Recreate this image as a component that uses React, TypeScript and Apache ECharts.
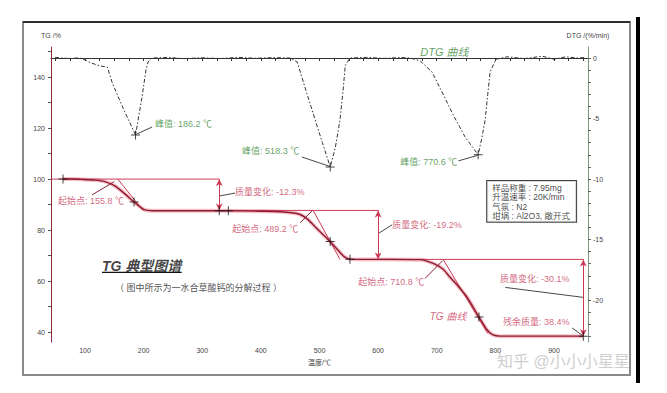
import React, { useEffect, useRef } from "react";
import * as echarts from "echarts";

const FONT = "'Liberation Sans', 'Noto Sans CJK SC', sans-serif";

// ---- axes ----
const xLabelValues = [100, 200, 300, 400, 500, 600, 700, 800, 900];
const xTickValues = [50, 75, 100, 125, 150, 175, 200, 225, 250, 275, 300, 325, 350, 375, 400, 425, 450, 475, 500, 525, 550, 575, 600, 625, 650, 675, 700, 725, 750, 775, 800, 825, 850, 875, 900, 925, 950];
const tgLabelValues = [40, 60, 80, 100, 120, 140];
const tgTickValues = [40, 50, 60, 70, 80, 90, 100, 110, 120, 130, 140, 150];
const dtgLabelValues = [0, -5, -10, -15, -20];
const dtgTickValues = [0, -1, -2, -3, -4, -5, -6, -7, -8, -9, -10, -11, -12, -13, -14, -15, -16, -17, -18, -19, -20, -21, -22, -23];

// ---- TG curve (temperature ℃, mass %) ----
const tgCurve: [number, number][] = [
  [62.5, 100], [80, 100], [91.5, 99.9], [117, 99.6], [134, 99.0], [151, 97.3], [168, 94.2],
  [183.6, 91.0], [194, 89.1], [202, 87.9], [214, 87.6], [260, 87.6], [329, 87.6], [400, 87.4],
  [433, 87.2], [463.5, 86.4], [479, 84.4], [492.5, 81.3], [504.5, 78.6], [518.2, 75.5],
  [532, 72.0], [542, 69.6], [552, 68.6], [569, 68.5], [620, 68.5], [672, 68.4], [694, 66.9],
  [710, 64.8], [723, 61.4], [738, 57.6], [752, 53.6], [772, 45.9], [786, 40.8], [795, 39.0],
  [808, 38.4], [880, 38.4], [950, 38.4],
];
const tgMarkers: [number, number][] = [
  [62.5, 100], [183.6, 91.0], [329, 87.6], [344.5, 87.6], [518.2, 75.5], [552, 68.6], [772, 45.9], [950, 38.4],
];

// ---- DTG curve (temperature ℃, %/min) ----
const dtgCurve: [number, number][] = [
  [49, 0.05], [60, 0.0], [75, -0.05], [90, 0.02], [97, -0.1], [110, -0.4], [126, -0.66], [138, -0.74],
  [146, -1.98], [160, -3.6], [175, -5.2], [186.2, -6.36], [197, -3.3], [204, -1.0], [207.5, -0.33],
  [214, 0], [240, 0.05], [270, -0.05], [300, 0.02], [330, -0.05], [360, 0.05], [390, -0.02],
  [420, 0.03], [450, 0], [462, -0.33], [477, -2.7], [492.5, -5.1], [505, -7.0], [518.3, -9.0],
  [527, -7.4], [535, -5.1], [540, -2.8], [544, -0.6], [552, 0], [580, 0.05], [610, -0.03],
  [640, 0.04], [655, 0], [672, -0.25], [692, -1.16], [714, -3.3], [728, -4.7], [748, -6.5],
  [760, -7.3], [770.6, -8.0], [777, -6.6], [782.6, -5.1], [787, -3.0], [791, -1.16], [801, -0.1],
  [820, 0.1], [850, -0.05], [880, 0.15], [900, -0.1], [920, 0.1], [940, 0.0], [955, 0.05],
];
const dtgPeaks: [number, number][] = [[186.2, -6.36], [518.3, -9.0], [770.6, -8.0]];

// ---- step analysis ----
const stepLevels = [100, 87.7, 68.5, 38.4];
const stepBounds = [42, 329, 600, 950];
const tangents: [number, number][][] = [
  [[155.8, 100], [199, 87.7]],
  [[489.2, 87.7], [535, 68.5]],
  [[710.8, 68.5], [787, 39.5]],
];

// ---- leader lines ----
const peakLeaders: [number, number][][] = [
  [[214.5, -5.7], [187.5, -6.3]],
  [[470, -8.18], [517, -8.95]],
  [[737, -8.5], [769.5, -8.05]],
];
const onsetLeaders: [number, number][][] = [
  [[112, 93.8], [150, 99.0]],
  [[467, 82.9], [487.4, 87.5]],
  [[680, 61.0], [710, 68.0]],
];
const changeLeaders: [number, number][][] = [
  [[330, 93.4], [356, 94.5]],
  [[600, 78.6], [624, 82.1]],
  [[817, 57.5], [950, 53.6]],
  [[931, 41.6], [949, 38.6]],
];
const titleUnderline: [number, number][] = [[129, 63.4], [265, 63.4]];

// ---- texts (temperature, value, text) ----
const peakTexts: [number, number, string][] = [
  [219.5, -5.45, "峰值: 186.2 ℃"],
  [368, -7.69, "峰值: 518.3 ℃"],
  [637.6, -8.6, "峰值: 770.6 ℃"],
];
const onsetTexts: [number, number, string][] = [
  [54, 91.4, "起始点: 155.8 ℃"],
  [351, 80.5, "起始点: 489.2 ℃"],
  [566, 59.5, "起始点: 710.8 ℃"],
];
const changeTexts: [number, number, string][] = [
  [356, 94.9, "质量变化: -12.3%"],
  [624, 82.1, "质量变化: -19.2%"],
  [808, 60.7, "质量变化: -30.1%"],
  [813, 43.9, "残余质量: 38.4%"],
];
const infoLines = ["样品称重 : 7.95mg", "升温速率 : 20K/min", "气氛 : N2", "坩埚 : Al2O3, 敞开式"];

const RED = "#cc3a55";
const TEXTRED = "#c8405c";
const GREEN = "#3b8a3b";
const PLUS = "path://M4.45,0H5.55V4.45H10V5.55H5.55V10H4.45V5.55H0V4.45H4.45Z";

function seg(points: [number, number][], color: string, width: number, yAxisIndex = 0, z = 3): any {
  return {
    type: "line",
    data: points,
    yAxisIndex,
    symbol: "none",
    silent: true,
    z,
    lineStyle: { color, width },
  };
}

function texts(items: [number, number, string][], yAxisIndex: number, color: string, extra: any = {}): any {
  return {
    type: "scatter",
    yAxisIndex,
    symbolSize: 0,
    silent: true,
    z: 6,
    data: items.map(([x, y, t]) => ({ value: [x, y], name: t })),
    label: {
      show: true,
      position: [0, 0],
      align: "left",
      verticalAlign: "middle",
      formatter: (p: any) => p.name,
      color,
      fontSize: 9,
      fontFamily: FONT,
      ...extra,
    },
  };
}

export default function App() {
  const ref = useRef<HTMLDivElement>(null);
  useEffect(() => {
    if (!ref.current) return;
    const chart = echarts.init(ref.current, null, { renderer: "svg" });

    const series: any[] = [];
    // TG glow + main
    series.push({
      type: "line", data: tgCurve, yAxisIndex: 0, symbol: "none", smooth: 0.25, silent: true, z: 2,
      lineStyle: { color: "rgba(232,120,140,0.45)", width: 4 },
    });
    series.push({
      type: "line", data: tgCurve, yAxisIndex: 0, symbol: "none", smooth: 0.25, silent: true, z: 4,
      lineStyle: { color: "#8e1a2e", width: 1.4 },
    });
    // DTG
    series.push({
      type: "line", data: dtgCurve, yAxisIndex: 1, symbol: "none", silent: true, z: 4,
      lineStyle: { color: "#333", width: 1, type: [4, 2, 1.5, 2] },
    });
    // step baselines with arrows
    for (let i = 0; i < 3; i++) {
      const s = seg([[stepBounds[i], stepLevels[i]], [stepBounds[i + 1], stepLevels[i]]], RED, 1);
      if (i === 0) {
        s.markLine = {
          silent: true,
          symbol: ["arrow", "arrow"],
          symbolSize: [5, 7],
          label: { show: false },
          lineStyle: { color: RED, width: 1, type: "solid" },
          data: [0, 1, 2].map((k) => [
            { coord: [stepBounds[k + 1], stepLevels[k]] },
            { coord: [stepBounds[k + 1], stepLevels[k + 1]] },
          ]),
        };
      }
      series.push(s);
    }
    tangents.forEach((t) => series.push(seg(t, RED, 1)));
    onsetLeaders.forEach((t) => series.push(seg(t, "#8a2238", 1)));
    changeLeaders.forEach((t) => series.push(seg(t, "#333", 0.9)));
    peakLeaders.forEach((t) => series.push(seg(t, "#333", 0.9, 1)));
    series.push(seg(titleUnderline, "#111", 1.2));
    // markers
    series.push({
      type: "scatter", data: tgMarkers, yAxisIndex: 0, symbol: PLUS, symbolSize: 9, silent: true, z: 7,
      itemStyle: { color: "#111" },
    });
    series.push({
      type: "scatter", data: dtgPeaks, yAxisIndex: 1, symbol: PLUS, symbolSize: 9, silent: true, z: 7,
      itemStyle: { color: "#111" },
    });
    // texts
    series.push(texts(peakTexts, 1, GREEN));
    series.push(texts(onsetTexts, 0, TEXTRED));
    series.push(texts(changeTexts, 0, TEXTRED));
    series.push(texts([[672, 0.5, "DTG 曲线"]], 1, GREEN, { fontSize: 11, fontStyle: "italic" }));
    series.push(texts([[688, 46.2, "TG 曲线"]], 0, TEXTRED, { fontSize: 10, fontStyle: "italic" }));
    series.push(texts([[129, 66.1, "TG 典型图谱"]], 0, "#111", { fontSize: 14, fontStyle: "italic", fontWeight: "bold" }));
    series.push(texts([[151, 57.1, "（ 图中所示为一水合草酸钙的分解过程 ）"]], 0, "#222", { fontSize: 9 }));
    series.push(
      texts([[786, 99.2, infoLines.join("\n")]], 0, "#111", {
        verticalAlign: "top",
        fontSize: 8.5,
        lineHeight: 9.4,
        borderColor: "#111",
        borderWidth: 1,
        backgroundColor: "#fff",
        padding: [2, 6, 1, 5],
      })
    );

    const axisLabel = { color: "#444", fontSize: 7, fontFamily: FONT };

    chart.setOption({
      animation: false,
      backgroundColor: "#fff",
      grid: { left: 51, right: 79, top: 47, bottom: 51, containLabel: false },
      xAxis: {
        type: "value",
        min: 42,
        max: 958,
        name: "温度/℃",
        nameLocation: "middle",
        nameGap: 11,
        nameTextStyle: { color: "#444", fontSize: 7, fontFamily: FONT },
        axisLine: { show: true, lineStyle: { color: "#333", width: 1 } },
        axisTick: { show: true, length: 3, customValues: xTickValues, lineStyle: { color: "#333" } },
        axisLabel: { ...axisLabel, margin: 5, customValues: xLabelValues },
        splitLine: { show: false },
      },
      yAxis: [
        {
          type: "value",
          min: 36.1,
          max: 151.8,
          name: "TG /%",
          nameLocation: "end",
          nameGap: 8,
          nameTextStyle: { color: "#444", fontSize: 7, fontFamily: FONT },
          axisLine: { show: true, lineStyle: { color: "#8a2a3a", width: 1 } },
          axisTick: { show: true, length: 3, customValues: tgTickValues, lineStyle: { color: "#555" } },
          axisLabel: { ...axisLabel, margin: 6, customValues: tgLabelValues },
          splitLine: { show: false },
        },
        {
          type: "value",
          min: -23.47,
          max: 0.91,
          position: "right",
          name: "DTG /(%/min)",
          nameLocation: "end",
          nameGap: 8,
          nameTextStyle: { color: "#444", fontSize: 7, fontFamily: FONT },
          axisLine: { show: true, lineStyle: { color: "#7f9a80", width: 1 } },
          axisTick: { show: true, length: 3, customValues: dtgTickValues, lineStyle: { color: "#666" } },
          axisLabel: { ...axisLabel, margin: 5, customValues: dtgLabelValues },
          splitLine: { show: false },
        },
      ],
      graphic: [
        { type: "rect", shape: { x: 23, y: 22, width: 607, height: 353 }, style: { fill: "none", stroke: "#8a8a8a", lineWidth: 2 }, z: -1, silent: true },
        { type: "line", shape: { x1: 23, y1: 22, x2: 630, y2: 22 }, style: { stroke: "#111", lineWidth: 1.5 }, z: -1, silent: true },
        { type: "rect", shape: { x: 636, y: 17, width: 4, height: 366 }, style: { fill: "#000" }, silent: true },
        {
          type: "text", x: 497, y: 361, silent: true, z: 10,
          style: { text: "知乎 @小小小星星", fill: "#cfcfcf", fontSize: 16, fontFamily: FONT, verticalAlign: "middle" },
        },
      ],
      series,
    });
    return () => chart.dispose();
  }, []);
  return <div ref={ref} style={{ position: "fixed", left: 0, top: 0, width: 667, height: 393, background: "#fff" }} />;
}
